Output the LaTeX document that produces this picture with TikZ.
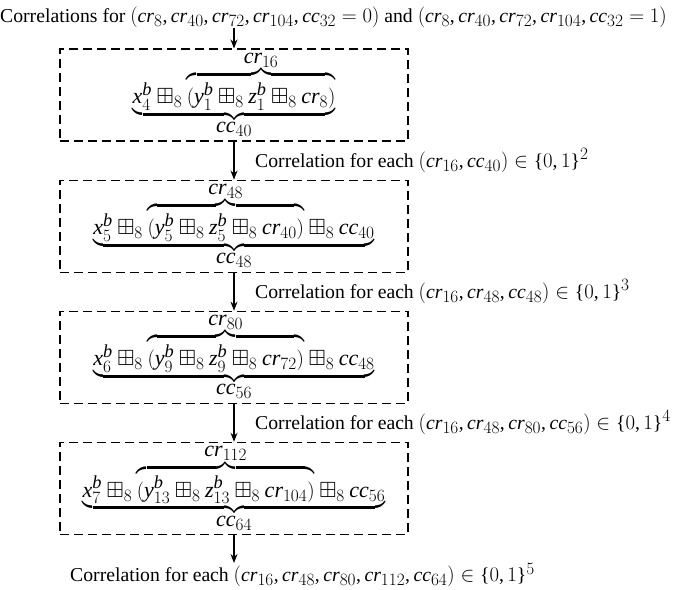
\documentclass[tikz,border=0pt]{standalone}
\usepackage{amsmath,amssymb}
\usepackage{fontspec}
\setmainfont{Liberation Serif}
\usepackage[italic]{mathastext}
\usepackage{tikz}
\usetikzlibrary{arrows.meta, positioning, calc}
\newcommand{\bpl}{\mskip4mu{\boxplus_{8}}\mskip4mu}
\newcommand{\tallstrut}{\rule[-4pt]{0pt}{29pt}}

\begin{document}
\begin{tikzpicture}[
  x=1pt, y=-1pt,
  font=\fontsize{19.7}{24}\selectfont,
  node distance=38pt,
  stagebox/.style={rectangle, draw, dash pattern=on 9pt off 5pt, line width=1.1pt,
    minimum width=348pt, minimum height=92pt, inner sep=0pt, align=center,
    font=\fontsize{22}{26}\selectfont},
  arr/.style={-{Stealth[length=9pt, width=7pt]}, line width=1.1pt},
  corr/.style={anchor=west, inner sep=0pt},
]
  \useasboundingbox (0,0) rectangle (685,589);
  \node[anchor=west, inner sep=0pt] (title) at (0,17)
    {Correlations for $(cr_8,cr_{40},cr_{72},cr_{104},cc_{32}=0)$ and $(cr_8,cr_{40},cr_{72},cr_{104},cc_{32}=1)$};
  \node[stagebox] (b1) at (234,95)
    {$\underbrace{x_4^b \bpl {\overbrace{\tallstrut(y_1^b \bpl z_1^b \bpl cr_8)}^{\textstyle cr_{16}}}}_{\textstyle cc_{40}}$};
  \node[stagebox, below=of b1] (b2)
    {$\underbrace{x_5^b \bpl {\overbrace{\tallstrut(y_5^b \bpl z_5^b \bpl cr_{40})}^{\textstyle cr_{48}}} \bpl cc_{40}}_{\textstyle cc_{48}}$};
  \node[stagebox, below=of b2] (b3)
    {$\underbrace{x_6^b \bpl {\overbrace{\tallstrut(y_9^b \bpl z_9^b \bpl cr_{72})}^{\textstyle cr_{80}}} \bpl cc_{48}}_{\textstyle cc_{56}}$};
  \node[stagebox, below=of b3] (b4)
    {$\underbrace{x_7^b \bpl {\overbrace{\tallstrut(y_{13}^b \bpl z_{13}^b \bpl cr_{104})}^{\textstyle cr_{112}}} \bpl cc_{56}}_{\textstyle cc_{64}}$};
  \node[anchor=north west, inner sep=0pt] (fin) at (70,563)
    {Correlation for each $(cr_{16},cr_{48},cr_{80},cr_{112},cc_{64})\in\{0,1\}^5$};

  \draw[arr] (title.south -| b1.north) -- (b1.north);
  \draw[arr] (b1) -- (b2);
  \draw[arr] (b2) -- (b3);
  \draw[arr] (b3) -- (b4);
  \draw[arr] (b4.south) -- (b4.south |- fin.north);

  % labels beside the arrows
  \node[corr] (c1) at ($(b1.south)!0.5!(b2.north)+(21,0)$)
    {Correlation for each $(cr_{16},cc_{40})\in\{0,1\}^2$};
  \node[corr] (c2) at ($(b2.south)!0.5!(b3.north)+(21,0)$)
    {Correlation for each $(cr_{16},cr_{48},cc_{48})\in\{0,1\}^3$};
  \node[corr] (c3) at ($(b3.south)!0.5!(b4.north)+(21,0)$)
    {Correlation for each $(cr_{16},cr_{48},cr_{80},cc_{56})\in\{0,1\}^4$};
\end{tikzpicture}
\end{document}
